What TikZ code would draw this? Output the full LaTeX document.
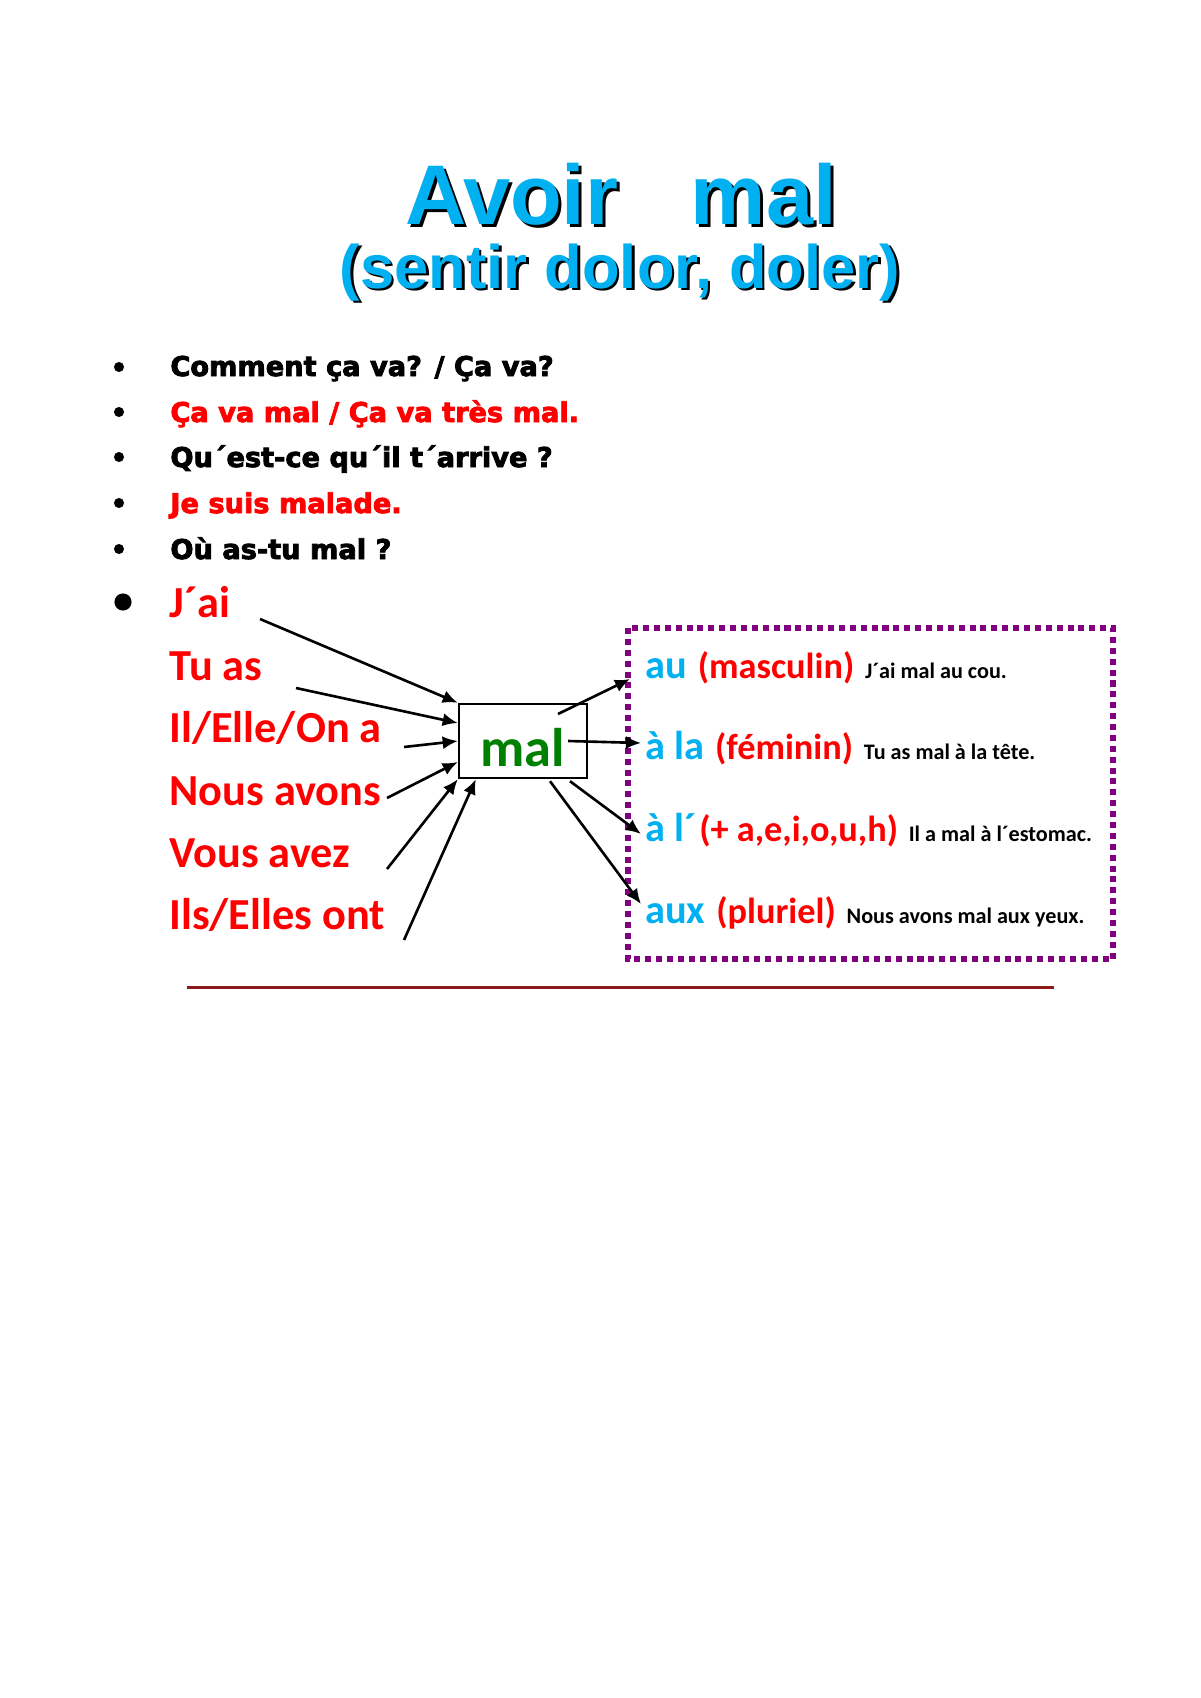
\documentclass[tikz,border=0pt]{standalone}
\usepackage{fontspec}
\setmainfont{Carlito}
\newfontfamily\titlefont{Liberation Sans}
\newfontfamily\heavyfont[FakeBold=3]{DejaVu Sans Bold}
\usetikzlibrary{arrows.meta}
\definecolor{skyblue}{HTML}{00B0F0}
\definecolor{malgreen}{HTML}{008000}
\definecolor{framepurple}{HTML}{800080}
\definecolor{rulered}{HTML}{8B1A1A}
\tikzset{
  txt/.style={inner sep=0pt, anchor=base west},
  heading/.style={inner sep=0pt, anchor=base, font=\titlefont\bfseries\fontsize{#1}{#1}\selectfont},
  question/.style={txt, font=\heavyfont\fontsize{13.5}{16}\selectfont},
  pronoun/.style={txt, text=red, font=\bfseries\fontsize{22}{26}\selectfont},
  lead/.style={txt, text=skyblue, font=\bfseries\fontsize{20}{24}\selectfont},
  gender/.style={txt, text=red, font=\bfseries\fontsize{18}{22}\selectfont},
  sample/.style={txt, font=\bfseries\fontsize{11}{13}\selectfont},
  bulletdot/.style={circle, fill, inner sep=0pt, minimum size=#1},
  link/.style={-{Latex[length=7.5pt,width=6.5pt]}, line width=1.3pt},
}

\begin{document}
\begin{tikzpicture}[x=0.4961pt, y=-0.4961pt]
\useasboundingbox[fill=white] (0,0) rectangle (1200,1698);

\node[heading=42, text=black] (titleshadow) at (624,227) {Avoir\hspace{36pt}mal};
\node[heading=42, text=skyblue] (title) at (621,224) {Avoir\hspace{36pt}mal};
\node[heading=30.5, text=black] (subshadow) at (622.5,290.5) {(sentir dolor, doler)};
\node[heading=30.5, text=skyblue] (subtitle) at (620,288) {(sentir dolor, doler)};

\node[bulletdot=5pt] (b1) at (119,367) {};
\node[bulletdot=5pt] (b2) at (119,412) {};
\node[bulletdot=5pt] (b3) at (119,457) {};
\node[bulletdot=5pt] (b4) at (119,503) {};
\node[bulletdot=5pt] (b5) at (119,549) {};
\node[question] (q1) at (170,376) {Comment ça va? / Ça va?};
\node[question, text=red] (q2) at (170,422) {Ça va mal / Ça va très mal.};
\node[question] (q3) at (170,467) {Qu´est-ce qu´il t´arrive ?};
\node[question, text=red] (q4) at (170,513) {Je suis malade.};
\node[question] (q5) at (170,559) {Où as-tu mal ?};

\node[bulletdot=8.5pt] (b6) at (123,602) {};
\node[pronoun] (jai) at (169,617) {J´ai};
\node[pronoun] (tuas) at (169,680) {Tu as};
\node[pronoun] (ila) at (169,742) {Il/Elle/On a};
\node[pronoun] (nous) at (169,805) {Nous avons};
\node[pronoun] (vous) at (169,867) {Vous avez};
\node[pronoun] (ils) at (169,929) {Ils/Elles ont};

\node[draw, line width=1.2pt, minimum width=63.5pt, minimum height=36.7pt,
  text height=25pt, text depth=0pt,
  text=malgreen, font=\bfseries\fontsize{27}{30}\selectfont] (mal) at (523,741) {mal\hspace{6pt}};

\draw[framepurple, line width=3pt, dash pattern=on 3pt off 2.4pt] (628,628) rectangle (1113,959);

\node[lead] (au) at (645,678) {au};
\node[gender] (masc) at ([xshift=5pt]au.base east) {(masculin)};
\node[sample] (ex1) at ([xshift=5pt]masc.base east) {J´ai mal au cou.};
\node[lead] (ala) at (645,759) {à la};
\node[gender] (fem) at ([xshift=5pt]ala.base east) {(féminin)};
\node[sample] (ex2) at ([xshift=5pt]fem.base east) {Tu as mal à la tête.};
\node[lead] (alx) at (645,841) {à l´};
\node[gender] (voy) at ([xshift=1pt]alx.base east) {(+ a,e,i,o,u,h)};
\node[sample] (ex3) at ([xshift=5pt]voy.base east) {Il a mal à l´estomac.};
\node[lead] (aux) at (645,923) {aux};
\node[gender] (plur) at ([xshift=5pt]aux.base east) {(pluriel)};
\node[sample] (ex4) at ([xshift=5pt]plur.base east) {Nous avons mal aux yeux.};

\coordinate (jaiend) at (260,619);
\coordinate (tuasend) at (296,688);
\coordinate (ilaend) at (404,747);
\coordinate (nousend) at (387,798);
\coordinate (vousend) at (387,869);
\coordinate (ilsend) at (404,940);
\draw[link] (jaiend) -- (mal.north west);
\draw[link] (tuasend) -- ([shift={(0,-18)}]mal.west);
\draw[link] (ilaend) -- (mal.west);
\draw[link] (nousend) -- ([shift={(0,21)}]mal.west);
\draw[link] (vousend) -- (mal.south west);
\draw[link] (ilsend) -- ([shift={(18,0)}]mal.south west);

\draw[link] ([shift={(35,-27)}]mal.center) -- ([shift={(-15,1)}]au.base west);
\draw[link] ([shift={(45,0)}]mal.center) -- ([shift={(-4,-16)}]ala.base west);
\draw[link] ([shift={(47,2)}]mal.south) -- ([shift={(-4,-7)}]alx.base west);
\draw[link] ([shift={(27,2)}]mal.south) -- ([shift={(-4,-19)}]aux.base west);

\draw[rulered, line width=1.5pt] (187,987) -- (1054,987);
\end{tikzpicture}
\end{document}
